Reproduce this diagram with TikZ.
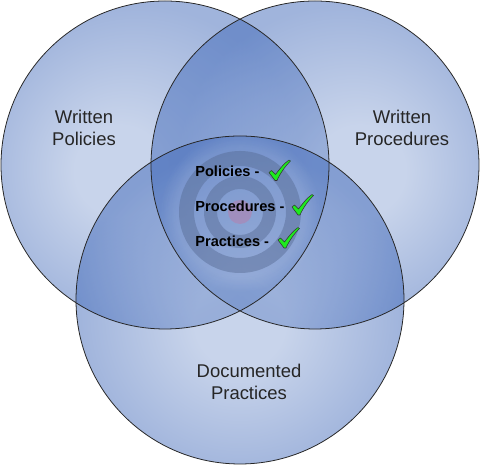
\documentclass[tikz,border=0pt]{standalone}
\usepackage{fontspec}
\setmainfont{Liberation Sans}
\usepackage{tikz}
\usetikzlibrary{fadings}
\definecolor{VennLight}{RGB}{145,169,215}
\definecolor{VennDark}{RGB}{65,105,185}
\definecolor{RingGray}{RGB}{85,105,145}
\definecolor{BullPink}{RGB}{190,120,165}
\definecolor{TickGreen}{RGB}{30,235,30}
\pgfdeclareradialshading{vennleft}{\pgfpoint{-8bp}{-1bp}}{color(0bp)=(VennLight); color(7bp)=(VennLight); color(25bp)=(VennDark); color(50bp)=(VennDark)}
\pgfdeclareradialshading{vennright}{\pgfpoint{8bp}{-1bp}}{color(0bp)=(VennLight); color(7bp)=(VennLight); color(25bp)=(VennDark); color(50bp)=(VennDark)}
\pgfdeclareradialshading{vennbottom}{\pgfpoint{0bp}{-4bp}}{color(0bp)=(VennLight); color(7bp)=(VennLight); color(25bp)=(VennDark); color(50bp)=(VennDark)}
\tikzset{
  venn/.style={fill opacity=0.5},
  vennline/.style={draw=black!85, line width=0.45pt},
  ring/.style={fill=RingGray, fill opacity=0.45, even odd rule},
  setlabel/.style={align=center, font=\fontsize{10.5}{12.5}\selectfont, text=black!85, inner sep=0pt},
  checkitem/.style={anchor=base west, font=\fontsize{8.3}{10}\selectfont\bfseries, inner sep=0pt},
  tickline/.style={fill=TickGreen, draw=black!80, line width=0.3pt, line join=round},
  greentick/.pic={
    \filldraw[tickline] (-11,-2) -- (-8.5,0) -- (-4.5,-4) .. controls (0,2) and (4,7) .. (9,10.5)
      -- (10.5,9.5) .. controls (5,4) and (0,-3) .. (-3,-10) -- (-5,-10) -- cycle;
  },
}

\begin{document}
\begin{tikzpicture}[x=0.02cm, y=0.02cm]
  \useasboundingbox (0,0) rectangle (481,466);
  % the three sets
  \path[venn, shading=vennleft] (165,301) circle (164);
  \path[venn, shading=vennright] (315,301) circle (164);
  \path[venn, shading=vennbottom] (240,166) circle (164);
  % target in the middle
  \coordinate (bull) at (240,254);
  \fill[white, fill opacity=0.12, path fading=circle with fuzzy edge 20 percent] (bull) circle (80);
  \fill[ring] (bull) circle (61) circle (46);
  \fill[ring] (bull) circle (36) circle (23);
  \fill[BullPink, fill opacity=0.45] (bull) circle (12);
  \draw[vennline] (165,301) circle (164) (315,301) circle (164) (240,166) circle (164);
  % set names
  \node[setlabel] (policies) at (84,338) {Written\\Policies};
  \node[setlabel] (procedures) at (402,338) {Written\\Procedures};
  \node[setlabel] (practices) at (249,84) {Documented\\Practices};
  % what is met
  \node[checkitem] (chkpol) at (195,289) {Policies -};
  \node[checkitem] (chkproc) at (195,254) {Procedures -};
  \node[checkitem] (chkprac) at (195,219) {Practices -};
  \pic at (280,295.5) {greentick};
  \pic at (303,261) {greentick};
  \pic at (289,228) {greentick};
\end{tikzpicture}
\end{document}
